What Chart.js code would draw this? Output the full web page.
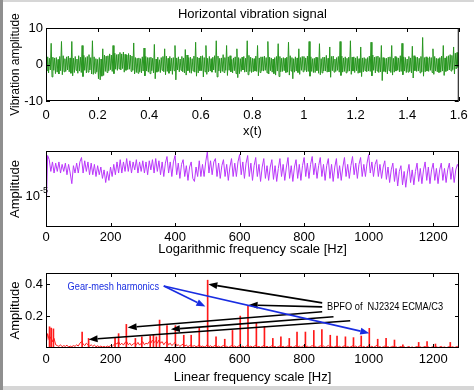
<!DOCTYPE html>
<html>
<head>
<meta charset="utf-8">
<title>Horizontal vibration signal</title>
<script src="https://cdn.jsdelivr.net/npm/chart.js@4.4.1/dist/chart.umd.min.js"></script>
<style>
  html, body { margin: 0; padding: 0; background: #fff; }
  #figure { position: relative; width: 474px; height: 390px; background: #d6d6d6; overflow: hidden; }
  #edge { position: absolute; left: 0; top: 0; width: 3px; height: 390px; background: #8f8f8f; }
  #paper { position: absolute; left: 3px; top: 2px; width: 471px; height: 384px; background: #fff; }
  canvas { position: absolute; left: 0; }
</style>
</head>
<body>
<div id="figure">
  <div id="edge"></div>
  <div id="paper"></div>
  <canvas id="timeChart" width="474" height="140" style="top:0px"></canvas>
  <canvas id="logChart" width="474" height="120" style="top:140px"></canvas>
  <canvas id="linChart" width="474" height="126" style="top:260px"></canvas>
</div>
<script>
// ---- values ----
const sampleRate = 300; // samples per second of the time trace
const vibration = [
  0.9, -1.8, 2.1, -2.3, 1.7, -1.5, 5.8, -3.4, 2.0, -1.6, 1.8, -2.5,
  1.9, -2.1, 1.4, -2.6, 2.2, -1.7, 6.3, -2.8, 2.4, -2.0, 1.6, -1.9,
  2.1, -1.5, 2.3, -2.0, 1.8, -2.4, 6.3, -3.1, 1.7, -2.2, 2.2, -1.6,
  1.5, -2.4, 2.4, -1.8, 2.0, -2.2, 5.2, -3.3, 2.5, -1.6, 1.9, -2.3,
  2.2, -2.1, 2.7, -1.5, 1.9, -2.6, 6.5, -2.7, 2.1, -2.4, 1.6, -2.0,
  1.4, -3.9, 1.9, -4.2, 1.5, -3.2, 4.3, -3.0, 2.6, -1.9, 2.3, -2.2,
  2.4, -1.7, 2.9, -1.4, 2.6, -1.9, 5.2, -2.5, 3.1, -1.3, 2.7, -1.6,
  2.8, -1.2, 3.3, -1.5, 2.9, -1.1, 3.4, -2.1, 2.8, -1.6, 2.6, -1.4,
  3.0, -1.3, 2.6, -1.9, 2.3, -1.6, 5.9, -2.6, 1.9, -2.2, 1.7, -2.4,
  1.8, -2.0, 1.6, -2.3, 2.1, -1.8, 4.5, -3.1, 2.2, -1.8, 1.9, -2.1,
  1.9, -2.5, 2.0, -1.7, 1.7, -2.3, 5.5, -3.9, 1.5, -2.1, 2.0, -1.9,
  1.3, -2.2, 1.9, -1.6, 2.2, -2.0, 4.3, -2.8, 2.3, -1.9, 1.7, -2.4,
  2.2, -1.8, 1.7, -2.7, 1.9, -1.7, 5.2, -4.2, 1.8, -1.5, 2.1, -2.0,
  1.5, -1.6, 2.2, -2.0, 1.8, -2.3, 4.1, -2.9, 2.6, -1.7, 1.9, -2.2,
  2.0, -2.4, 1.6, -1.8, 2.3, -2.1, 6.1, -3.2, 2.0, -2.3, 1.8, -1.7,
  2.3, -1.7, 2.4, -3.4, 1.9, -2.0, 5.2, -2.7, 1.7, -2.0, 2.2, -1.8,
  1.6, -2.1, 2.0, -1.5, 2.4, -2.2, 6.5, -3.4, 2.3, -1.8, 1.7, -2.3,
  1.8, -1.9, 2.7, -2.2, 1.9, -1.6, 5.2, -3.0, 2.1, -1.6, 2.4, -2.0,
  1.4, -2.3, 1.8, -1.7, 2.1, -2.5, 4.3, -3.6, 1.9, -2.5, 1.6, -1.9,
  2.0, -1.5, 2.2, -2.1, 1.7, -2.0, 6.5, -2.8, 2.5, -1.9, 2.0, -2.2,
  1.7, -2.0, 1.6, -1.8, 2.3, -1.9, 5.2, -3.1, 1.8, -2.2, 2.1, -1.7,
  2.1, -1.8, 2.3, -1.6, 1.9, -2.3, 6.3, -2.6, 2.0, -1.7, 1.8, -2.1,
  1.5, -2.5, 1.9, -2.9, 2.2, -1.8, 5.7, -3.3, 2.2, -2.0, 1.7, -1.9,
  1.9, -1.7, 1.7, -2.2, 2.0, -2.1, 6.1, -2.9, 2.4, -1.8, 1.9, -3.9,
  1.6, -2.1, 2.1, -1.8, 1.8, -2.2, 4.3, -2.7, 1.9, -1.6, 2.2, -2.0,
  2.2, -1.6, 1.8, -2.0, 2.3, -1.9, 6.3, -3.2, 2.1, -1.9, 1.6, -2.2,
  1.7, -2.2, 2.0, -1.7, 1.9, -2.4, 5.7, -2.8, 1.6, -2.3, 2.0, -1.8,
  2.0, -1.8, 2.5, -2.1, 1.7, -2.0, 4.8, -3.5, 2.2, -1.7, 2.3, -2.1,
  1.5, -1.9, 1.9, -1.6, 2.2, -2.1, 6.3, -3.0, 2.3, -2.1, 1.8, -1.9,
  2.1, -2.3, 1.7, -1.9, 2.0, -1.8, 6.5, -2.7, 2.0, -1.8, 2.1, -2.2,
  1.8, -1.7, 2.2, -2.4, 1.6, -2.2, 4.8, -3.3, 1.8, -2.0, 1.9, -1.7,
  1.6, -2.0, 1.9, -1.8, 2.3, -1.9, 6.1, -3.1, 2.6, -1.6, 2.0, -2.3,
  2.2, -1.8, 2.3, -2.2, 1.9, -2.0, 5.2, -4.4, 1.9, -1.9, 1.7, -2.1,
  1.7, -2.6, 2.0, -1.7, 2.1, -2.2, 5.2, -2.9, 1.7, -2.1, 2.2, -1.8,
  1.9, -1.6, 1.8, -2.0, 2.4, -1.9, 5.8, -2.8, 2.1, -1.8, 1.9, -2.2,
  1.5, -2.1, 2.2, -1.9, 1.8, -2.3, 5.0, -3.7, 2.4, -1.7, 2.0, -1.9,
  2.0, -1.8, 1.7, -2.3, 2.2, -2.0, 7.4, -3.2, 1.9, -2.0, 2.1, -1.8,
  1.8, -1.9, 2.1, -1.6, 1.9, -2.2, 4.3, -2.7, 2.2, -1.8, 1.7, -2.0,
  1.6, -2.2, 1.9, -2.1, 2.3, -1.8, 5.2, -3.0, 1.8, -1.9, 2.2, -1.7,
  2.4, -1.5, 2.7, -1.8, 2.5, -1.4, 4.8, -2.6, 3.1, -1.2, 3.3, -0.8,
];
const timeTicks = [0, 0.2, 0.4, 0.6, 0.8, 1, 1.2, 1.4, 1.6];
const vibTicks = [-10, 0, 10];

const freqStep = 5; // Hz between spectrum bins
// amplitude in units of 1e-5
const logSpectrum = [
  0.45, 3.4, 3.0, 2.1, 2.8, 2.0, 2.7, 2.1, 2.8, 2.0, 2.6, 2.1, 2.7, 1.9, 2.6, 2.0, 1.45, 2.5, 2.0, 2.7,
  2.0, 2.8, 3.2, 2.0, 2.9, 2.1, 2.8, 1.9, 2.7, 1.9, 2.6, 1.8, 2.5, 1.9, 2.4, 1.7, 2.2, 1.5, 2.1, 1.6,
  2.4, 1.8, 2.6, 1.9, 2.8, 2.0, 3.0, 2.0, 2.8, 2.1, 3.1, 2.1, 2.9, 2.0, 2.8, 2.2, 3.0, 2.0, 2.8, 2.1,
  2.9, 2.0, 2.8, 1.9, 2.9, 2.2, 3.0, 2.0, 3.1, 2.1, 2.9, 1.9, 2.8, 1.8, 2.7, 3.3, 2.0, 2.8, 1.8, 2.8,
  3.4, 1.9, 2.7, 1.7, 2.6, 3.0, 1.8, 2.5, 1.6, 2.4, 2.8, 1.7, 1.55, 2.4, 1.8, 2.9, 1.8, 2.6, 1.8, 2.8,
  3.8, 2.0, 2.9, 1.9, 2.8, 3.1, 1.8, 2.7, 1.7, 2.5, 3.0, 1.8, 2.6, 1.6, 2.4, 3.1, 1.8, 2.7, 1.8, 2.8,
  3.5, 1.9, 2.8, 1.7, 2.7, 3.4, 1.8, 2.7, 1.6, 2.5, 3.2, 1.8, 2.6, 1.55, 2.4, 3.1, 1.7, 2.5, 1.6, 2.4,
  3.0, 1.65, 2.5, 1.55, 2.3, 3.1, 1.8, 2.6, 1.6, 2.4, 3.2, 1.7, 2.5, 1.55, 2.4, 3.0, 1.7, 2.6, 1.6, 2.5,
  3.2, 1.8, 2.7, 1.7, 2.6, 3.3, 1.9, 2.7, 1.7, 2.5, 3.2, 1.8, 2.6, 1.6, 2.5, 3.1, 1.7, 2.6, 1.55, 2.4,
  3.1, 1.7, 2.5, 1.6, 2.4, 3.2, 1.8, 2.6, 1.7, 2.5, 3.3, 1.9, 2.7, 1.7, 2.6, 3.2, 1.8, 2.6, 1.8, 2.7,
  3.5, 2.0, 2.8, 1.8, 2.6, 3.0, 1.8, 2.6, 1.7, 2.4, 2.9, 1.65, 2.4, 1.5, 2.2, 2.7, 1.55, 2.3, 1.35, 2.1,
  2.5, 1.4, 2.1, 1.3, 2.0, 2.6, 1.5, 2.2, 1.4, 2.1, 2.7, 1.55, 2.3, 1.45, 2.2, 2.8, 1.6, 2.4, 1.45, 2.2,
  2.7, 1.6, 2.3, 1.45, 2.2, 2.7, 1.6, 2.3, 1.5, 2.2, 2.7, 1.65, 2.4, 1.5, 2.2, 2.6, 2.3,
];
const logTicks = [1e-5];

// linear spectrum floor, same 5 Hz bins
const linSpectrum = [
  0.02, 0.09, 0.05, 0.07, 0.04, 0.06, 0.02, 0.015, 0.01, 0.02, 0.008, 0.015, 0.01, 0.018, 0.006, 0.012, 0.008, 0.015, 0.01, 0.02,
  0.012, 0.03, 0.04, 0.025, 0.015, 0.03, 0.02, 0.012, 0.02, 0.01, 0.018, 0.008, 0.014, 0.007, 0.012, 0.006, 0.01, 0.005, 0.012, 0.008,
  0.015, 0.01, 0.02, 0.03, 0.025, 0.04, 0.02, 0.03, 0.018, 0.035, 0.04, 0.02, 0.03, 0.015, 0.025, 0.03, 0.02, 0.035, 0.018, 0.03,
  0.04, 0.02, 0.03, 0.025, 0.04, 0.03, 0.05, 0.035, 0.045, 0.03, 0.05, 0.03, 0.04, 0.02, 0.035, 0.04, 0.02, 0.03, 0.015, 0.025,
  0.035, 0.015, 0.02, 0.01, 0.018, 0.025, 0.012, 0.018, 0.008, 0.015, 0.02, 0.01, 0.015, 0.008, 0.012, 0.02, 0.008, 0.012, 0.006, 0.01,
  0.02,
  0.008, 0.014, 0.006, 0.011, 0.018,  0.007, 0.012, 0.005, 0.01, 0.016,  0.006, 0.011, 0.004, 0.009, 0.015,
  0.007, 0.013, 0.005, 0.01, 0.017,   0.006, 0.012, 0.004, 0.009, 0.02,   0.007, 0.012, 0.005, 0.011, 0.018,
  0.006, 0.01, 0.004, 0.009, 0.016,   0.005, 0.011, 0.004, 0.008, 0.014,  0.006, 0.01, 0.003, 0.009, 0.013,
  0.005, 0.011, 0.004, 0.008, 0.014,  0.006, 0.01, 0.003, 0.009, 0.015,   0.005, 0.012, 0.004, 0.01, 0.016,
  0.006, 0.011, 0.004, 0.009, 0.015,  0.005, 0.01, 0.003, 0.008, 0.014,   0.006, 0.012, 0.004, 0.009, 0.016,
  0.005, 0.01, 0.004, 0.008, 0.013,   0.006, 0.011, 0.003, 0.009, 0.014,  0.005, 0.01, 0.004, 0.008, 0.013,
  0.006, 0.012, 0.004, 0.01, 0.015,   0.005, 0.01, 0.003, 0.008, 0.014,   0.006, 0.011, 0.004, 0.009, 0.017,
  0.005, 0.009, 0.003, 0.007, 0.012,  0.004, 0.009, 0.003, 0.007, 0.011,  0.004, 0.008, 0.003, 0.006, 0.01,
  0.004, 0.008, 0.002, 0.006, 0.009,  0.003, 0.007, 0.002, 0.006, 0.009,  0.004, 0.008, 0.003, 0.006, 0.01,
  0.003, 0.007, 0.002, 0.005, 0.009,  0.004, 0.008, 0.003, 0.006, 0.01,   0.003, 0.007, 0.002, 0.005, 0.009,
  0.004, 0.008, 0.003, 0.006, 0.01,
  0.005,
];
// discrete peaks on top of the floor
const peakFreqs = [11, 16, 23, 112, 132, 214, 225, 249, 277, 297, 323, 333, 342, 352, 375, 401, 427, 450, 475, 501,
  527, 554, 578, 602, 626, 652, 677, 703, 728, 754, 778, 804, 830, 855, 881, 902, 928, 953, 977, 1002,
  1028, 1054, 1080, 1106, 1155, 1181, 1207, 1253];
const peakAmps = [0.133, 0.125, 0.12, 0.1, 0.06, 0.06, 0.09, 0.148, 0.06, 0.07, 0.075, 0.08, 0.07, 0.175, 0.14, 0.14, 0.08, 0.08, 0.123, 0.425,
  0.07, 0.055, 0.11, 0.2, 0.265, 0.155, 0.135, 0.06, 0.07, 0.06, 0.1, 0.1, 0.11, 0.115, 0.08, 0.075, 0.07, 0.065, 0.075, 0.123,
  0.055, 0.06, 0.05, 0.02, 0.035, 0.04, 0.025, 0.035];
const freqTicks = [0, 200, 400, 600, 800, 1000, 1200];
const linTicks = [0.2, 0.4];

// ---- styling ----
const FONT = "'Liberation Sans', Arial, Helvetica, sans-serif";
const GREEN = "rgb(40,150,32)";
const PURPLE = "rgb(185,55,250)";
const RED = "rgb(255,25,25)";
const BLUE = "rgb(25,45,225)";

Chart.defaults.font.family = FONT;
Chart.defaults.color = "#000";

const vibPoints = vibration.map((v, i) => ({ x: i / sampleRate, y: v }));
const logPoints = logSpectrum.map((v, i) => ({ x: i * freqStep, y: v * 1e-5 }));
const linPoints = linSpectrum.map((v, i) => ({ x: i * freqStep, y: v }));
const peakPoints = peakFreqs.map((f, i) => ({ x: f, y: peakAmps[i] }));

function xAxis(min, max, ticks, title, height, labelPad, titlePad) {
  return {
    type: "linear",
    min: min,
    max: max,
    offset: false,
    grid: { display: false, drawTicks: false, offset: false },
    border: { display: false },
    afterBuildTicks: (s) => {
      s.ticks = ticks.map((v) => ({ value: v }));
    },
    afterFit: (s) => {
      s.height = height;
    },
    ticks: {
      font: { size: 13 },
      padding: labelPad,
      maxRotation: 0,
      autoSkip: false,
      callback: (v) => String(v),
    },
    title: {
      display: true,
      text: title,
      font: { size: 13 },
      padding: { top: 0, bottom: titlePad },
    },
  };
}

function yAxis(type, min, max, ticks, title, titleSize, showLabels) {
  return {
    type: type,
    min: min,
    max: max,
    grid: { display: false, drawTicks: false },
    border: { display: false },
    afterBuildTicks: (s) => {
      s.ticks = ticks.map((v) => ({ value: v }));
    },
    afterFit: (s) => {
      s.width = 46;
    },
    ticks: {
      display: showLabels,
      font: { size: 13 },
      padding: 3,
      autoSkip: false,
      callback: (v) => String(v),
    },
    title: {
      display: true,
      text: title,
      font: { size: titleSize },
      padding: { top: 15.3 - titleSize * 0.6, bottom: 0 },
    },
  };
}

// box around the axes with inward ticks on all four sides
const boxTicks = {
  id: "boxTicks",
  afterDatasetsDraw(chart) {
    const { ctx, chartArea: a, scales } = chart;
    ctx.save();
    ctx.strokeStyle = "#000";
    ctx.lineWidth = 1;
    ctx.beginPath();
    scales.x.ticks.forEach((t) => {
      const px = Math.round(scales.x.getPixelForValue(t.value)) + 0.5;
      ctx.moveTo(px, a.bottom);
      ctx.lineTo(px, a.bottom - 4);
      ctx.moveTo(px, a.top);
      ctx.lineTo(px, a.top + 4);
    });
    scales.y.ticks.forEach((t) => {
      const py = Math.round(scales.y.getPixelForValue(t.value)) + 0.5;
      ctx.moveTo(a.left, py);
      ctx.lineTo(a.left + 4, py);
      ctx.moveTo(a.right, py);
      ctx.lineTo(a.right - 4, py);
    });
    ctx.stroke();
    ctx.strokeRect(a.left + 0.5, a.top + 0.5, a.right - a.left - 1, a.bottom - a.top - 1);
    ctx.restore();
  },
};

const figureTitle = {
  id: "figureTitle",
  afterDraw(chart) {
    const { ctx, chartArea } = chart;
    ctx.save();
    ctx.font = "13px " + FONT;
    ctx.fillStyle = "#000";
    ctx.textAlign = "center";
    ctx.textBaseline = "middle";
    ctx.fillText("Horizontal vibration signal", (chartArea.left + chartArea.right) / 2, 14);
    ctx.restore();
  },
};

// "10^-5" label of the log axis
const powerLabel = {
  id: "powerLabel",
  afterDraw(chart) {
    const { ctx, scales } = chart;
    const py = scales.y.getPixelForValue(logTicks[0]);
    ctx.save();
    ctx.fillStyle = "#000";
    ctx.textBaseline = "middle";
    ctx.font = "13px " + FONT;
    ctx.textAlign = "right";
    ctx.fillText("10", 40, py + 1);
    ctx.font = "9px " + FONT;
    ctx.textAlign = "left";
    ctx.fillText("-5", 40, py - 5);
    ctx.restore();
  },
};

function drawArrow(ctx, x1, y1, x2, y2, color) {
  const ang = Math.atan2(y2 - y1, x2 - x1);
  const len = 9;
  const half = 3.5;
  const bx = x2 - len * Math.cos(ang);
  const by = y2 - len * Math.sin(ang);
  ctx.strokeStyle = color;
  ctx.fillStyle = color;
  ctx.lineWidth = 1.6;
  ctx.beginPath();
  ctx.moveTo(x1, y1);
  ctx.lineTo(bx, by);
  ctx.stroke();
  ctx.beginPath();
  ctx.moveTo(x2, y2);
  ctx.lineTo(bx + half * Math.sin(ang), by - half * Math.cos(ang));
  ctx.lineTo(bx - half * Math.sin(ang), by + half * Math.cos(ang));
  ctx.closePath();
  ctx.fill();
}

function narrowText(ctx, text, x, y, color) {
  ctx.save();
  ctx.translate(x, y);
  ctx.scale(0.84, 1);
  ctx.font = "11px " + FONT;
  ctx.fillStyle = color;
  ctx.textAlign = "left";
  ctx.textBaseline = "middle";
  ctx.fillText(text, 0, 0);
  ctx.restore();
}

// arrows and labels, in data coordinates [tail f, tail a, tip f, tip a]
const spectrumNotes = {
  id: "spectrumNotes",
  afterDatasetsDraw(chart) {
    const { ctx, scales } = chart;
    const X = (f) => scales.x.getPixelForValue(f);
    const Y = (a) => scales.y.getPixelForValue(a);
    const bpfo = [
      [856, 0.283, 503, 0.4],
      [856, 0.258, 628, 0.269],
      [856, 0.227, 253, 0.129],
      [891, 0.196, 387, 0.117],
      [943, 0.171, 132, 0.054],
    ];
    const gear = [
      [365, 0.389, 494, 0.26],
      [365, 0.389, 1002, 0.093],
    ];
    ctx.save();
    bpfo.forEach((r) => drawArrow(ctx, X(r[0]), Y(r[1]), X(r[2]), Y(r[3]), "#000"));
    gear.forEach((r) => drawArrow(ctx, X(r[0]), Y(r[1]), X(r[2]), Y(r[3]), BLUE));
    narrowText(ctx, "BPFO of  NJ2324 ECMA/C3", X(871), Y(0.254), "#000");
    narrowText(ctx, "Gear-mesh harmonics", X(67), Y(0.383), BLUE);
    ctx.restore();
  },
};

const common = {
  responsive: false,
  animation: false,
  events: [],
  plugins: { legend: { display: false }, tooltip: { enabled: false } },
};

new Chart(document.getElementById("timeChart"), {
  type: "line",
  data: {
    datasets: [
      { data: vibPoints, borderColor: GREEN, borderWidth: 1, pointRadius: 0, tension: 0 },
    ],
  },
  options: {
    ...common,
    layout: { padding: { top: 28, right: 15, left: 0, bottom: 0 } },
    scales: {
      x: xAxis(0, 1.6, timeTicks, "x(t)", 39, 6.2, 1.2),
      y: yAxis("linear", -10, 10, vibTicks, "Vibration amplitude", 12, true),
    },
  },
  plugins: [boxTicks, figureTitle],
});

new Chart(document.getElementById("logChart"), {
  type: "line",
  data: {
    datasets: [
      { data: logPoints, borderColor: PURPLE, borderWidth: 1, pointRadius: 0, tension: 0 },
    ],
  },
  options: {
    ...common,
    layout: { padding: { top: 11, right: 15, left: 0, bottom: 0 } },
    scales: {
      x: xAxis(0, 1280, freqTicks, "Logarithmic frequency scale [Hz]", 33, 2.2, 3.2),
      y: yAxis("logarithmic", 3.9e-6, 3.9e-5, logTicks, "Amplitude", 13, false),
    },
  },
  plugins: [boxTicks, powerLabel],
});

new Chart(document.getElementById("linChart"), {
  type: "line",
  data: {
    datasets: [
      { data: linPoints, borderColor: RED, borderWidth: 1, pointRadius: 0, tension: 0 },
      { type: "bar", data: peakPoints, backgroundColor: RED, barThickness: 1, grouped: false, borderWidth: 0 },
    ],
  },
  options: {
    ...common,
    layout: { padding: { top: 13, right: 15, left: 0, bottom: 0 } },
    scales: {
      x: xAxis(0, 1280, freqTicks, "Linear frequency scale [Hz]", 38, 3.2, 1.2),
      y: yAxis("linear", 0, 0.47, linTicks, "Amplitude", 13, true),
    },
  },
  plugins: [boxTicks, spectrumNotes],
});
</script>
</body>
</html>
